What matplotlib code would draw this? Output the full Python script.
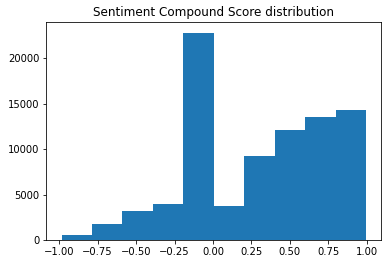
import numpy as np
import matplotlib
matplotlib.use("Agg")
import matplotlib.pyplot as plt

# histogram of compound scores: 10 equal bins between min and max score
score_min = -0.985
score_max = 0.996
counts = [550, 1770, 3240, 4010, 22800, 3760, 9200, 12050, 13520, 14290]

edges = np.linspace(score_min, score_max, len(counts) + 1)
centers = (edges[:-1] + edges[1:]) / 2

W, H = 387, 264
fig = plt.figure(figsize=(W / 72, H / 72), dpi=72)
ax = fig.add_axes([46.3 / W, 24 / H, 335 / W, 217.7 / H])
ax.hist(centers, bins=edges, weights=counts, color="#1f77b4")
ax.set_title("Sentiment Compound Score distribution")
ax.set_xticks([-1.0, -0.75, -0.5, -0.25, 0.0, 0.25, 0.5, 0.75, 1.0])
ax.set_yticks([0, 5000, 10000, 15000, 20000])

fig.savefig("out.png", dpi=72)
